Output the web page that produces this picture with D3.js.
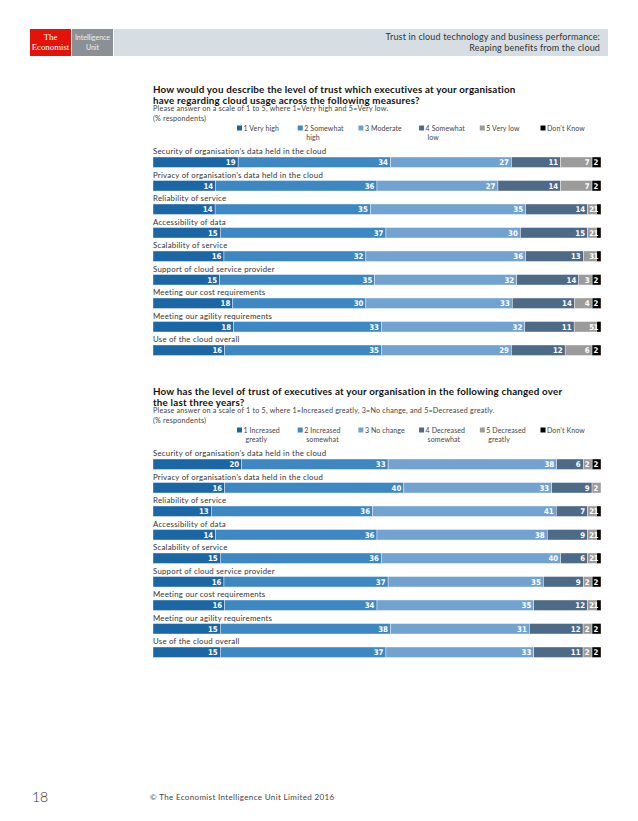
<!DOCTYPE html>
<html>
<head>
<meta charset="utf-8">
<script src="https://cdn.jsdelivr.net/npm/d3@7"></script>
<style>
  body { margin: 0; background: #fff; }
  text { font-family: Lato, "DejaVu Sans", sans-serif; }
</style>
</head>
<body>
<div id="page"></div>
<script>
// Data
var categories = [
	"Security of organisation\u2019s data held in the cloud",
	"Privacy of organisation\u2019s data held in the cloud",
	"Reliability of service",
	"Accessibility of data",
	"Scalability of service",
	"Support of cloud service provider",
	"Meeting our cost requirements",
	"Meeting our agility requirements",
	"Use of the cloud overall"
];

var trustLegend = [["1 Very high"], ["2 Somewhat", "high"], ["3 Moderate"], ["4 Somewhat", "low"], ["5 Very low"], ["Don\u2019t Know"]];
var changeLegend = [["1 Increased", "greatly"], ["2 Increased", "somewhat"], ["3 No change"], ["4 Decreased", "somewhat"], ["5 Decreased", "greatly"], ["Don\u2019t Know"]];

var trustValues = [
	[19, 34, 27, 11, 7, 2],
	[14, 36, 27, 14, 7, 2],
	[14, 35, 35, 14, 2, 1],
	[15, 37, 30, 15, 2, 1],
	[16, 32, 36, 13, 3, 1],
	[15, 35, 32, 14, 3, 2],
	[18, 30, 33, 14, 4, 2],
	[18, 33, 32, 11, 5, 1],
	[16, 35, 29, 12, 6, 2]
];

var changeValues = [
	[20, 33, 38, 6, 2, 2],
	[16, 40, 33, 9, 2, 0],
	[13, 36, 41, 7, 2, 1],
	[14, 36, 38, 9, 2, 1],
	[15, 36, 40, 6, 2, 1],
	[16, 37, 35, 9, 2, 2],
	[16, 34, 35, 12, 2, 1],
	[15, 38, 31, 12, 2, 2],
	[15, 37, 33, 11, 2, 2]
];

var colors = ["#1b66a5", "#3d87c3", "#72a2d0", "#4d6a87", "#9b9b9b", "#000000"];

var W = 638, H = 821;

var svg = d3.select("#page").append("svg")
	.attr("width", W)
	.attr("height", H);

svg.append("rect").attr("width", W).attr("height", H).attr("fill", "#fff");

// Header
var header = svg.append("g");
header.append("rect").attr("x", 30).attr("y", 29).attr("width", 41).attr("height", 27).attr("fill", "#e3120b");
header.append("rect").attr("x", 72).attr("y", 29).attr("width", 41).attr("height", 27).attr("fill", "#8a9096");
header.append("rect").attr("x", 114).attr("y", 29).attr("width", 494).attr("height", 27).attr("fill", "#d6dee4");

header.selectAll(".eco")
	.data(["The", "Economist"])
	.enter().append("text")
	.attr("x", 50.5)
	.attr("y", function(d, i){ return 40 + i * 10; })
	.attr("text-anchor", "middle")
	.style("font-family", "'Liberation Serif', serif")
	.style("font-size", "8.8px")
	.attr("fill", "#fff")
	.text(function(d){ return d; });

header.selectAll(".eiu")
	.data(["Intelligence", "Unit"])
	.enter().append("text")
	.attr("x", 92.5)
	.attr("y", function(d, i){ return 40 + i * 10; })
	.attr("text-anchor", "middle")
	.style("font-size", "7px")
	.attr("fill", "#eef0f2")
	.text(function(d){ return d; });

header.selectAll(".ttl")
	.data(["Trust in cloud technology and business performance:", "Reaping benefits from the cloud"])
	.enter().append("text")
	.attr("x", 600)
	.attr("y", function(d, i){ return 40 + i * 10.5; })
	.attr("text-anchor", "end")
	.style("font-size", "9px")
	.style("letter-spacing", "0.15px")
	.attr("fill", "#333")
	.text(function(d){ return d; });

// One stacked bar panel
function drawPanel(top, titleLines, subtitle, legend, values) {
	var g = svg.append("g");
	var left = 153, right = 601;

	g.selectAll(".title")
		.data(titleLines)
		.enter().append("text")
		.attr("x", left)
		.attr("y", function(d, i){ return top + i * 10.6; })
		.style("font-size", "9.8px")
		.style("letter-spacing", "0.2px")
		.style("font-weight", "bold")
		.attr("fill", "#111")
		.text(function(d){ return d; });

	g.selectAll(".sub")
		.data([subtitle, "(% respondents)"])
		.enter().append("text")
		.attr("x", left)
		.attr("y", function(d, i){ return top + 18 + i * 10; })
		.style("font-size", "7.2px")
		.style("letter-spacing", "0.2px")
		.attr("fill", "#444")
		.text(function(d){ return d; });

	// legend
	var lx = d3.scaleBand().domain(d3.range(legend.length)).range([237, 237 + 6 * 60.7]);
	var leg = g.selectAll(".leg")
		.data(legend)
		.enter().append("g")
		.attr("transform", function(d, i){ return "translate(" + lx(i) + "," + (top + 38) + ")"; });
	leg.append("rect")
		.attr("x", 0).attr("y", -5.5)
		.attr("width", 5).attr("height", 5)
		.attr("fill", function(d, i){ return colors[i]; });
	leg.selectAll("text")
		.data(function(d){ return d; })
		.enter().append("text")
		.attr("x", function(d, i){ return i === 0 ? 6.5 : 8.5; })
		.attr("y", function(d, i){ return i * 8.5; })
		.style("font-size", "7px")
		.style("letter-spacing", "0.1px")
		.attr("fill", "#444")
		.text(function(d){ return d; });

	// bars
	var rows = values.map(function(v, i){
		var o = { cat: categories[i] };
		v.forEach(function(x, j){ o["k" + j] = x; });
		return o;
	});
	var keys = d3.range(colors.length).map(function(j){ return "k" + j; });
	var series = d3.stack().keys(keys).offset(d3.stackOffsetExpand)(rows);

	var x = d3.scaleLinear().domain([0, 1]).range([left, right]);
	var y = d3.scaleBand().domain(categories).range([top + 51, top + 51 + categories.length * 23.5]);

	g.selectAll(".cat")
		.data(categories)
		.enter().append("text")
		.attr("x", left)
		.attr("y", function(d){ return y(d) + 10; })
		.style("font-size", "7.8px")
		.style("letter-spacing", "0.25px")
		.attr("fill", "#333")
		.text(function(d){ return d; });

	var layer = g.selectAll(".layer")
		.data(series)
		.enter().append("g")
		.attr("fill", function(d, i){ return colors[i]; });

	layer.selectAll("rect")
		.data(function(d){ return d; })
		.enter().append("rect")
		.attr("x", function(d){ return x(d[0]); })
		.attr("y", function(d){ return y(d.data.cat) + 13; })
		.attr("width", function(d){ return x(d[1]) - x(d[0]); })
		.attr("height", 10.5)
		.attr("stroke", "#fff")
		.attr("stroke-width", 0.4);

	layer.selectAll("text")
		.data(function(d){
			return d.map(function(p){ p.key = d.key; return p; })
				.filter(function(p){ return p.data[d.key] > 0; });
		})
		.enter().append("text")
		.attr("x", function(d){ return x(d[1]) - 2.5; })
		.attr("y", function(d){ return y(d.data.cat) + 21.2; })
		.attr("text-anchor", "end")
		.style("font-family", "'DejaVu Sans Condensed', 'DejaVu Sans', sans-serif")
		.style("font-size", "7.8px")
		.style("font-weight", "bold")
		.attr("fill", "#fff")
		.text(function(d){ return d.data[d.key]; });
}

drawPanel(93,
	["How would you describe the level of trust which executives at your organisation",
	 "have regarding cloud usage across the following measures?"],
	"Please answer on a scale of 1 to 5, where 1=Very high and 5=Very low.",
	trustLegend, trustValues);

drawPanel(395,
	["How has the level of trust of executives at your organisation in the following changed over",
	 "the last three years?"],
	"Please answer on a scale of 1 to 5, where 1=Increased greatly, 3=No change, and 5=Decreased greatly.",
	changeLegend, changeValues);

// Footer
svg.append("text")
	.attr("x", 32).attr("y", 802)
	.style("font-size", "14px")
	.style("font-weight", 300)
	.attr("fill", "#333")
	.text("18");

svg.append("text")
	.attr("x", 150).attr("y", 800)
	.style("font-size", "8px")
	.style("letter-spacing", "0.35px")
	.attr("fill", "#444")
	.text("\u00a9 The Economist Intelligence Unit Limited 2016");
</script>
</body>
</html>
